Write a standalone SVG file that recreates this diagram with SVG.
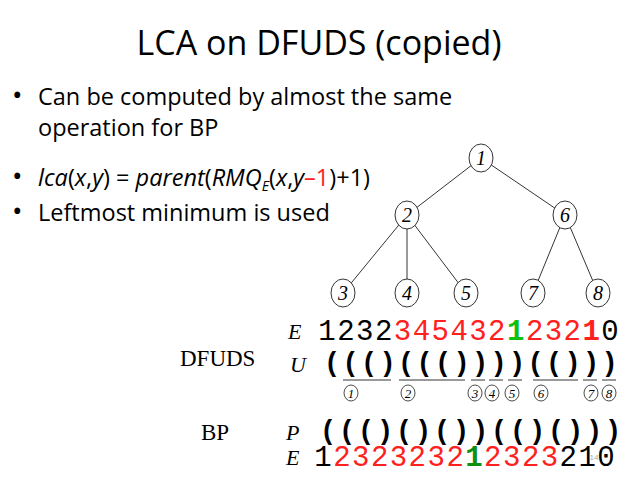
<svg xmlns="http://www.w3.org/2000/svg" width="638" height="478" viewBox="0 0 638 478">
<style>
.t{font-family:"Open Sans","Liberation Sans",sans-serif;fill:#000}
.s{font-family:"Liberation Serif",serif;fill:#000}
.m{font-family:"Liberation Mono",monospace;font-size:29px;text-anchor:middle}
.p{font-family:"Liberation Mono",monospace;font-size:27px;font-weight:bold;text-anchor:middle}
.r{fill:#ff2020}.g{fill:#10c010;font-weight:bold}.rb{fill:#ff2020;font-weight:bold}.g2{fill:#109010;font-weight:bold}
.n ellipse{fill:#fff;stroke:#000;stroke-width:0.8}
.n text{font-family:"Liberation Serif",serif;font-style:italic;font-size:20px;text-anchor:middle}
.c ellipse{fill:none;stroke:#000;stroke-width:0.7}
.c text{font-family:"Liberation Serif",serif;font-style:italic;font-size:13px;text-anchor:middle}
.u line{stroke:#000;stroke-width:0.8}
</style>
<rect width="638" height="478" fill="#fff"/>
<text class="t" x="319" y="55" font-size="34" text-anchor="middle">LCA on DFUDS (copied)</text>
<g class="t" font-size="23.5">
<text x="12" y="105" font-size="28">•</text><text x="38" y="105">Can be computed by almost the same</text>
<text x="38" y="136">operation for BP</text>
<text x="12" y="186" font-size="28">•</text><text x="38" y="186"><tspan font-style="italic">lca</tspan>(<tspan font-style="italic">x</tspan>,<tspan font-style="italic">y</tspan>) = <tspan font-style="italic">parent</tspan>(<tspan font-style="italic">RMQ</tspan><tspan font-style="italic" font-size="14" dy="5">E</tspan><tspan dy="-5">(</tspan><tspan font-style="italic">x</tspan>,<tspan font-style="italic">y</tspan><tspan fill="#ff2020">–1</tspan>)+1)</text>
<text x="12" y="221" font-size="28">•</text><text x="38" y="221">Leftmost minimum is used</text>
</g>
<g id="edges" stroke="#000" stroke-width="0.8">
<line x1="481" y1="158" x2="407" y2="215"/><line x1="481" y1="158" x2="565" y2="215"/>
<line x1="407" y1="215" x2="343" y2="293"/><line x1="407" y1="215" x2="407" y2="293"/><line x1="407" y1="215" x2="466" y2="293"/>
<line x1="565" y1="215" x2="533" y2="293"/><line x1="565" y1="215" x2="598" y2="293"/>
</g>
<g class="n">
<g id="n1"><ellipse cx="481" cy="158" rx="12" ry="14"/><text x="481" y="165">1</text></g>
<g id="n2"><ellipse cx="407" cy="215" rx="12" ry="14"/><text x="407" y="222">2</text></g>
<g id="n6"><ellipse cx="565" cy="215" rx="12" ry="14"/><text x="565" y="222">6</text></g>
<g id="n3"><ellipse cx="343" cy="293" rx="12" ry="14"/><text x="343" y="300">3</text></g>
<g id="n4"><ellipse cx="407" cy="293" rx="12" ry="14"/><text x="407" y="300">4</text></g>
<g id="n5"><ellipse cx="466" cy="293" rx="12" ry="14"/><text x="466" y="300">5</text></g>
<g id="n7"><ellipse cx="533" cy="293" rx="12" ry="14"/><text x="533" y="300">7</text></g>
<g id="n8"><ellipse cx="598" cy="293" rx="12" ry="14"/><text x="598" y="300">8</text></g>
</g>
<text class="s" x="180" y="366" font-size="23">DFUDS</text>
<text class="s" x="201" y="440" font-size="23">BP</text>
<g class="s" font-style="italic" font-size="22">
<text x="288" y="339">E</text><text x="290" y="372">U</text><text x="286" y="440">P</text><text x="286" y="465">E</text>
</g>
<text class="m" y="340"><tspan x="327">1</tspan><tspan x="345.9">2</tspan><tspan x="364.7">3</tspan><tspan x="383.6">2</tspan><tspan class="r" x="402.5">3</tspan><tspan class="r" x="421.4">4</tspan><tspan class="r" x="440.2">5</tspan><tspan class="r" x="459.1">4</tspan><tspan class="r" x="478">3</tspan><tspan class="r" x="496.8">2</tspan><tspan class="g" x="515.7">1</tspan><tspan class="r" x="534.6">2</tspan><tspan class="r" x="553.4">3</tspan><tspan class="r" x="572.3">2</tspan><tspan class="rb" x="591.2">1</tspan><tspan x="610">0</tspan></text>
<text class="p" y="371"><tspan x="332">(</tspan><tspan x="350.5">(</tspan><tspan x="369">(</tspan><tspan x="387.5">)</tspan><tspan x="406">(</tspan><tspan x="424.5">(</tspan><tspan x="443">(</tspan><tspan x="461.5">)</tspan><tspan x="480">)</tspan><tspan x="498.5">)</tspan><tspan x="517">)</tspan><tspan x="535.5">(</tspan><tspan x="554">(</tspan><tspan x="572.5">)</tspan><tspan x="591">)</tspan><tspan x="609.5">)</tspan></text>
<g class="u">
<line x1="343" y1="380" x2="391" y2="380"/><line x1="399" y1="380" x2="465" y2="380"/><line x1="471" y1="380" x2="485" y2="380"/><line x1="489" y1="380" x2="503" y2="380"/><line x1="508" y1="380" x2="522" y2="380"/><line x1="533" y1="380" x2="578" y2="380"/><line x1="583" y1="380" x2="597" y2="380"/><line x1="602" y1="380" x2="616" y2="380"/>
</g>
<g class="c">
<g><ellipse cx="351" cy="393" rx="7" ry="8"/><text x="351" y="398">1</text></g>
<g><ellipse cx="408" cy="393" rx="7" ry="8"/><text x="408" y="398">2</text></g>
<g><ellipse cx="475" cy="393" rx="7" ry="8"/><text x="475" y="398">3</text></g>
<g><ellipse cx="492" cy="393" rx="7" ry="8"/><text x="492" y="398">4</text></g>
<g><ellipse cx="512" cy="393" rx="7" ry="8"/><text x="512" y="398">5</text></g>
<g><ellipse cx="541" cy="393" rx="7" ry="8"/><text x="541" y="398">6</text></g>
<g><ellipse cx="591" cy="393" rx="7" ry="8"/><text x="591" y="398">7</text></g>
<g><ellipse cx="609" cy="393" rx="7" ry="8"/><text x="609" y="398">8</text></g>
</g>
<text class="p" y="439"><tspan x="328">(</tspan><tspan x="347">(</tspan><tspan x="366">(</tspan><tspan x="385">)</tspan><tspan x="404">(</tspan><tspan x="423">)</tspan><tspan x="442">(</tspan><tspan x="461">)</tspan><tspan x="480">)</tspan><tspan x="499">(</tspan><tspan x="518">(</tspan><tspan x="537">)</tspan><tspan x="556">(</tspan><tspan x="575">)</tspan><tspan x="594">)</tspan><tspan x="613">)</tspan></text>
<text class="m" y="466"><tspan x="323">1</tspan><tspan class="r" x="341.9">2</tspan><tspan class="r" x="360.7">3</tspan><tspan class="r" x="379.6">2</tspan><tspan class="r" x="398.5">3</tspan><tspan class="r" x="417.3">2</tspan><tspan class="r" x="436.2">3</tspan><tspan class="r" x="455.1">2</tspan><tspan class="g2" x="474">1</tspan><tspan class="r" x="492.8">2</tspan><tspan class="r" x="511.7">3</tspan><tspan class="r" x="530.6">2</tspan><tspan class="r" x="549.4">3</tspan><tspan x="568.3">2</tspan><tspan x="587.2">1</tspan><tspan x="606">0</tspan></text>
<text x="594" y="460" font-family="Liberation Sans,sans-serif" font-size="8" fill="#aaa" text-anchor="middle">14</text>
</svg>
